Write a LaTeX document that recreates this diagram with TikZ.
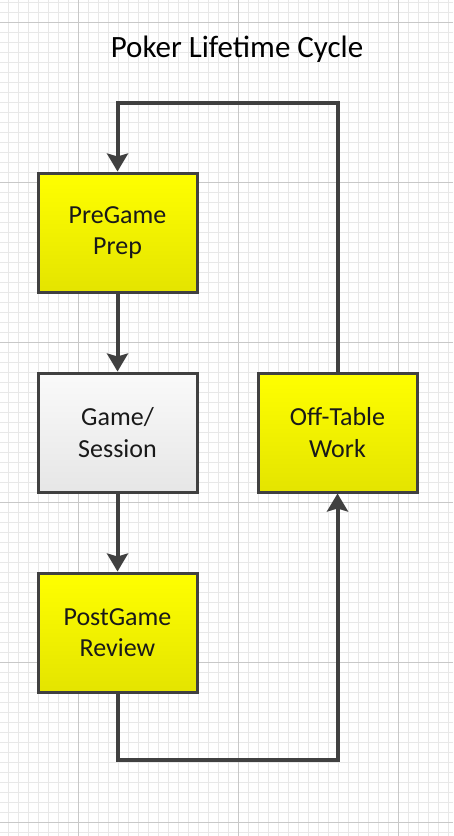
\documentclass[tikz,border=0pt]{standalone}
\usepackage{fontspec}
\setmainfont{Carlito}
\usetikzlibrary{arrows.meta,shadows}
\definecolor{edge}{HTML}{404040}
\definecolor{minorgrid}{HTML}{E8E8E8}
\definecolor{majorgrid}{HTML}{C8C8C8}
\definecolor{yeltop}{HTML}{FFFF00}
\definecolor{yelbot}{HTML}{E4E400}
\definecolor{gratop}{HTML}{FAFAFA}
\definecolor{grabot}{HTML}{E6E6E6}
\tikzset{
  procbox/.style={draw=edge, line width=3pt, minimum width=159pt, minimum height=119pt,
    inner sep=0pt, align=center, font=\fontsize{26}{31.5}\selectfont, text=black!90,
    drop shadow={shadow xshift=2pt, shadow yshift=-2pt, opacity=0.25, fill=black!40}},
  yelbox/.style={procbox, top color=yeltop, bottom color=yelbot},
  graybox/.style={procbox, top color=gratop, bottom color=grabot},
  flow/.style={draw=edge, line width=4pt, line join=miter,
    -{Stealth[length=18pt, width=21pt, inset=3pt]}}
}
\begin{document}
\begin{tikzpicture}[x=1pt,y=-1pt]
\useasboundingbox (0,0) rectangle (453,836);
\fill[white] (0,0) rectangle (453,836);
% grid
\foreach \gx in {8,18,...,448} \draw[minorgrid, line width=1pt] (\gx,0) -- (\gx,836);
\foreach \gy in {2.7,12.7,...,836} \draw[minorgrid, line width=1pt] (0,\gy) -- (453,\gy);
\foreach \gx in {78,238,398} \draw[majorgrid, line width=1pt] (\gx,0) -- (\gx,836);
\foreach \gy in {22.7,182.7,342.7,502.7,662.7,822.7} \draw[majorgrid, line width=1pt] (0,\gy) -- (453,\gy);
% title
\node (title) at (237,49.5) {\fontsize{31}{36}\selectfont Poker Lifetime Cycle};
% boxes
\node[yelbox] (pre) at (117.5,232.5) {PreGame\\Prep};
\node[graybox] (game) at (117.5,432.5) {Game/\\Session};
\node[yelbox] (post) at (117.5,632.5) {PostGame\\Review};
\node[yelbox] (off) at (337.5,432.5) {Off-Table\\Work};
\coordinate (topL) at (117.5,102.5);
\coordinate (topR) at (337.5,102.5);
\coordinate (botL) at (117.5,760);
\coordinate (botR) at (337.5,760);
% connectors
\draw[flow] (pre) -- (game);
\draw[flow] (game) -- (post);
\draw[flow] (post.south) -- (botL) -- (botR) -- (off.south);
\draw[flow] (off.north) -- (topR) -- (topL) -- (pre.north);
\end{tikzpicture}
\end{document}
